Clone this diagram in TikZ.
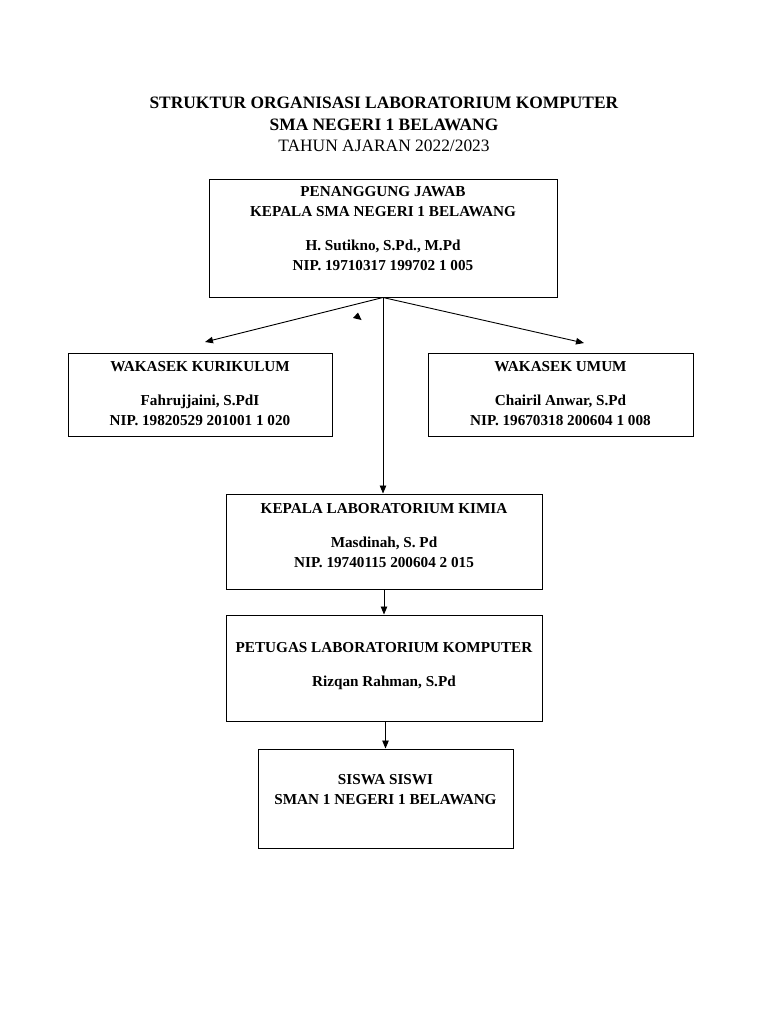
\documentclass[tikz,border=0pt]{standalone}
\usepackage{fontspec}
\setmainfont{Liberation Serif}
\usetikzlibrary{arrows.meta}
\begin{document}
\begin{tikzpicture}[x=1pt,y=-1pt,
  box/.style={draw, line width=1pt, inner sep=0pt},
  txt/.style={anchor=north, align=center, inner sep=0pt, font=\fontsize{15.2}{20}\selectfont\bfseries},
  ttl/.style={anchor=north, align=center, inner sep=0pt, font=\fontsize{17.4}{21.5}\selectfont},
  conn/.style={line width=0.9pt, -{Triangle[length=8pt,width=6.5pt]}}]
\useasboundingbox (0,0) rectangle (768,1024);
% title
\node[ttl] (title) at (384,97) {\textbf{STRUKTUR ORGANISASI LABORATORIUM KOMPUTER}\\\textbf{SMA NEGERI 1 BELAWANG}\\TAHUN AJARAN 2022/2023};
% boxes
\node[box, minimum width=348pt, minimum height=117pt] (top) at (383,238.5) {};
\node[box, minimum width=264pt, minimum height=83pt] (kur) at (200,394.5) {};
\node[box, minimum width=265pt, minimum height=83pt] (umum) at (560.5,394.5) {};
\node[box, minimum width=316pt, minimum height=95pt] (kimia) at (384,541.5) {};
\node[box, minimum width=316pt, minimum height=106pt] (petugas) at (384,668) {};
\node[box, minimum width=255pt, minimum height=99pt] (siswa) at (385.5,798.5) {};
% texts
\node[txt] (toptxt) at (383,186) {PENANGGUNG JAWAB\\KEPALA SMA NEGERI 1 BELAWANG\\[14pt]H. Sutikno, S.Pd., M.Pd\\NIP. 19710317 199702 1 005};
\node[txt] (kurtxt) at (200,361) {WAKASEK KURIKULUM\\[14pt]Fahrujjaini, S.PdI\\NIP. 19820529 201001 1 020};
\node[txt] (umumtxt) at (560.5,361) {WAKASEK UMUM\\[14pt]Chairil Anwar, S.Pd\\NIP. 19670318 200604 1 008};
\node[txt] (kimiatxt) at (384,503) {KEPALA LABORATORIUM KIMIA\\[14pt]Masdinah, S. Pd\\NIP. 19740115 200604 2 015};
\node[txt] (petugastxt) at (384,642) {PETUGAS LABORATORIUM KOMPUTER\\[14pt]Rizqan Rahman, S.Pd};
\node[txt] (siswatxt) at (385.5,774) {SISWA SISWI\\SMAN 1 NEGERI 1 BELAWANG};
% connectors
\coordinate (lt) at (205,342);
\coordinate (rt) at (584,343);
\draw[conn] (top.south) -- (lt);
\draw[conn] (top.south) -- (rt);
\draw[conn] (top.south) -- (top.south |- kimia.north);
\draw[conn] (kimia.south) -- (petugas.north);
\draw[conn] (petugas.south -| siswa.north) -- (siswa.north);
% stray arrowhead
\fill (358,312.5) -- (353,318) -- (361.5,320) -- cycle;
\end{tikzpicture}
\end{document}
